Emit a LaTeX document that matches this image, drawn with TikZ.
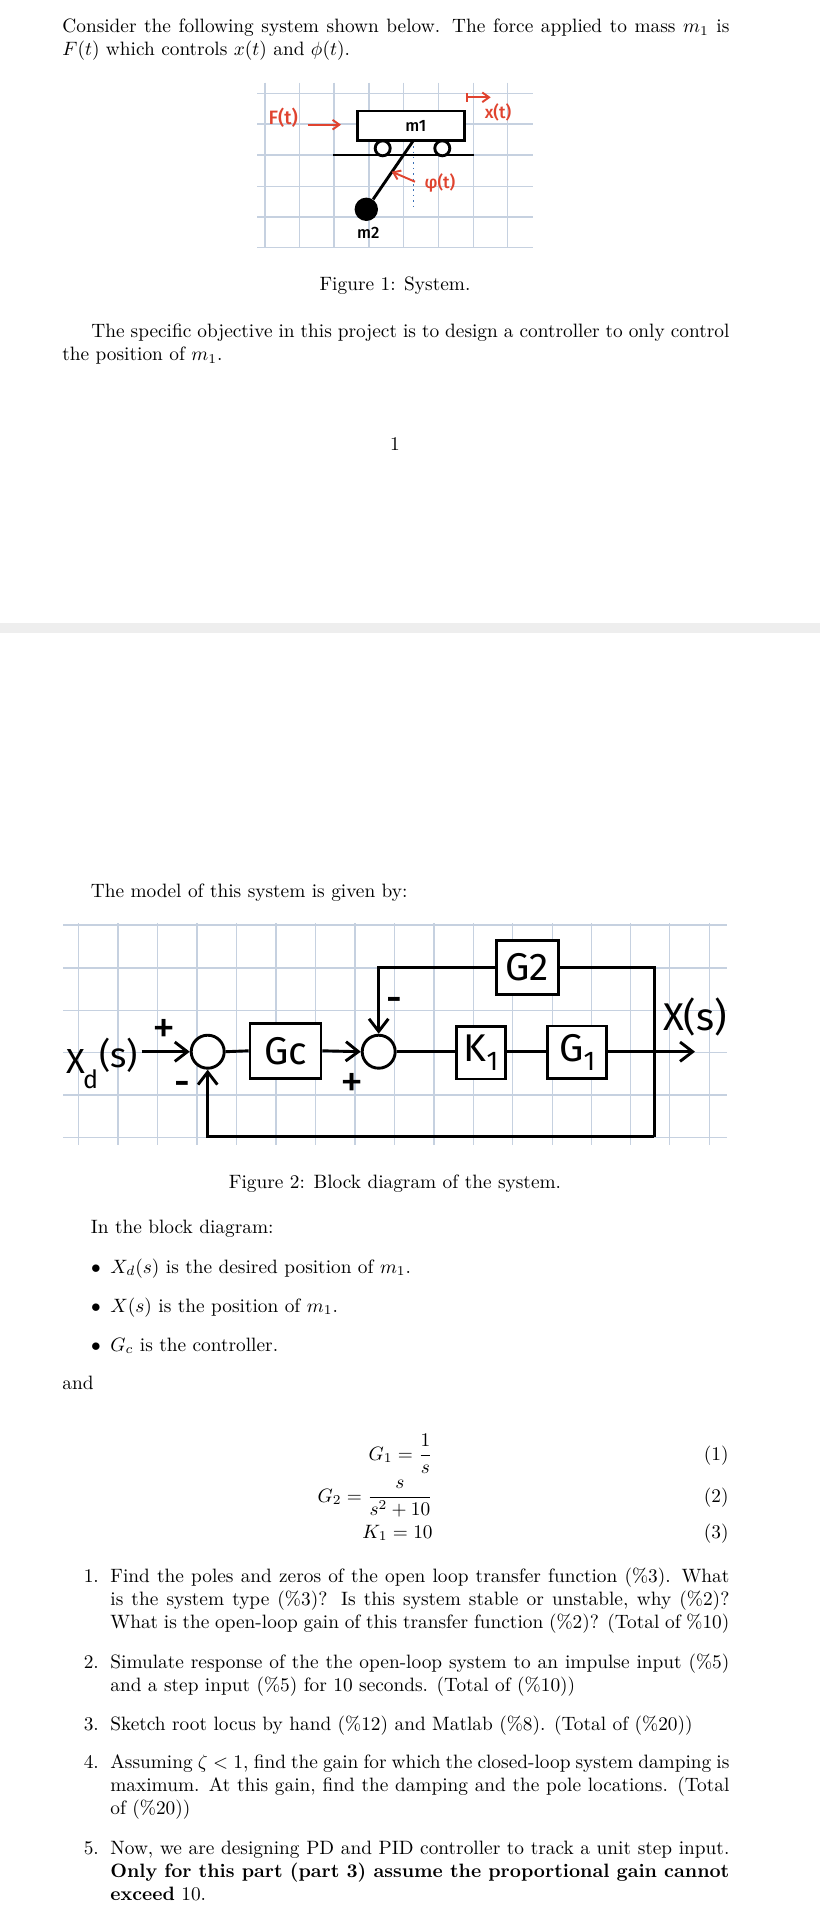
\documentclass[tikz,border=0pt]{standalone}
\usepackage[no-math]{fontspec}
\usepackage{amsmath}
\usetikzlibrary{arrows.meta}
\newfontfamily\handfont{Fira Sans}
\newfontfamily\handbold{Fira Sans Medium}
\definecolor{gridc}{HTML}{C6D1E0}
\definecolor{redink}{HTML}{E0432F}
\definecolor{bluedot}{HTML}{3A6FB5}
\definecolor{bandc}{HTML}{EEEEEE}
\def\pxu{0.51733pt}
\tikzset{
  every node/.style={font=\fontsize{10}{12}\selectfont},
  gridline/.style={draw=gridc,line width=0.8pt},
  para/.style={inner sep=0pt,anchor=north west,align=justify},
  onel/.style={inner sep=0pt,anchor=base west},
  midl/.style={inner sep=0pt,anchor=base},
  eqn/.style={inner sep=0pt,anchor=base east},
  blk/.style={draw=black,fill=white,line width=1.5pt,inner sep=0pt,font=\handfont\fontsize{20}{24}\selectfont},
  sumj/.style={circle,draw=black,fill=white,line width=1.5pt,inner sep=0pt,minimum size=33*\pxu},
  wire/.style={draw=black,line width=1.5pt},
  wirearrow/.style={wire,-{Straight Barb[length=6.5pt,width=10pt,line width=1.5pt]}},
  hand/.style={inner sep=0pt,font=\handfont\fontsize{20}{24}\selectfont},
  handin/.style={inner sep=0pt,anchor=base west,font=\handfont\fontsize{18}{22}\selectfont},
  plussign/.style={inner sep=0pt,font=\handfont\fontsize{24}{28}\selectfont},
  minussign/.style={inner sep=0pt,font=\handbold\fontsize{20}{24}\selectfont},
  cartline/.style={draw=black,line width=1.5pt},
  redtxt/.style={inner sep=0pt,text=redink,font=\handbold\fontsize{10}{12}\selectfont},
  blktxt/.style={inner sep=0pt,font=\handbold\fontsize{8.5}{10}\selectfont},
  redarrow/.style={draw=redink,line width=1pt,-{Straight Barb[length=3.5pt,width=5pt,line width=1pt]}}
}
\begin{document}
\begin{tikzpicture}[x=0.51733pt,y=-0.51733pt]
\useasboundingbox (0,0) rectangle (820,1920);
\fill[white] (0,0) rectangle (820,1920);
% page break band
\fill[bandc] (0,623) rectangle (820,633);

% ---------- text ----------
\node[para,text width=667*\pxu] (intro) at (62,15.5) {\strut Consider the following system shown below.  The force applied to mass $m_1$ is $F(t)$ which controls $x(t)$ and $\phi(t)$.};
\node[midl] (cap1) at (395,290.7) {Figure 1: System.};
\node[para,text width=667*\pxu] (obj) at (62,320.5) {\strut\hspace*{15pt}The specific objective in this project is to design a controller to only control the position of $m_1$.};
\node[midl] (pg) at (395,450) {1};
\node[onel] (model) at (90.5,897.3) {The model of this system is given by:};
\node[midl] (cap2) at (395,1188.7) {Figure 2: Block diagram of the system.};
\node[onel] (inblock) at (90.5,1233) {In the block diagram:};
\node[onel] (b1) at (110,1273) {\makebox[0pt][r]{$\bullet$\hspace{5pt}}$X_d(s)$ is the desired position of $m_1$.};
\node[onel] (b2) at (110,1312) {\makebox[0pt][r]{$\bullet$\hspace{5pt}}$X(s)$ is the position of $m_1$.};
\node[onel] (b3) at (110,1351) {\makebox[0pt][r]{$\bullet$\hspace{5pt}}$G_c$ is the controller.};
\node[onel] (andw) at (62,1389) {and};
\node[eqn] (eq1) at (433,1460) {$\displaystyle G_1=\frac{1}{s}$};
\node[eqn] (eq2) at (433,1502) {$\displaystyle G_2=\frac{s}{s^2+10}$};
\node[eqn] (eq3) at (433,1538) {$\displaystyle K_1=10$};
\node[eqn] (n1) at (729,1460) {(1)};
\node[eqn] (n2) at (729,1502) {(2)};
\node[eqn] (n3) at (729,1538) {(3)};
\node[para,text width=619*\pxu] (i1) at (110,1565.8) {\strut\makebox[0pt][r]{1.\hspace{6pt}}Find the poles and zeros of the open loop transfer function (\%3). What is the system type (\%3)? Is this system stable or unstable, why (\%2)? What is the open-loop gain of this transfer function (\%2)? (Total of \%10)};
\node[para,text width=619*\pxu] (i2) at (110,1651.8) {\strut\makebox[0pt][r]{2.\hspace{6pt}}Simulate response of the the open-loop system to an impulse input (\%5) and a step input (\%5) for 10 seconds. (Total of (\%10))};
\node[para,text width=619*\pxu] (i3) at (110,1713.8) {\strut\makebox[0pt][r]{3.\hspace{6pt}}Sketch root locus by hand (\%12) and Matlab (\%8). (Total of (\%20))};
\node[para,text width=619*\pxu] (i4) at (110,1751.8) {\strut\makebox[0pt][r]{4.\hspace{6pt}}Assuming $\zeta<1$, find the gain for which the closed-loop system damping is maximum. At this gain, find the damping and the pole locations. (Total of (\%20))};
\node[para,text width=619*\pxu] (i5) at (110,1837.8) {\strut\makebox[0pt][r]{5.\hspace{6pt}}Now, we are designing PD and PID controller to track a unit step input. \textbf{Only for this part (part 3) assume the proportional gain cannot exceed} 10.};

% ---------- Figure 1 grid ----------
\foreach \gx in {265,299.3,334,369,403.7,438.3,473.3,507.3}
  \draw[gridline] (\gx,82.7) -- (\gx,247.7);
\foreach \gy in {93.3,124,155,186.3,217,247.7}
  \draw[gridline] (257,\gy) -- (533,\gy);

% ---------- Figure 1 cart ----------
\coordinate (gl) at (333.3,155);
\coordinate (gr) at (474,155);
\draw[cartline] (gl) -- (gr);
\node[draw=black,fill=white,line width=1.5pt,inner sep=0pt,minimum width=106.7*\pxu,minimum height=29.7*\pxu] (cart) at (410.7,125.8) {};
\node[blktxt] (m1) at (415.7,125.7) {m1};
\node[circle,draw=black,fill=white,line width=1.5pt,inner sep=0pt,minimum size=15*\pxu] (wl) at (382.7,148.3) {};
\node[circle,draw=black,fill=white,line width=1.5pt,inner sep=0pt,minimum size=15*\pxu] (wr) at (442.3,148.3) {};
\coordinate (pivot) at (413.3,140.7);
\coordinate (plumb) at (413.3,206.7);
\draw[draw=bluedot,line width=0.8pt,dotted] (pivot) -- (plumb);
\node[circle,fill=black,inner sep=0pt,minimum size=23.4*\pxu] (ball) at (366.3,209.3) {};
\draw[cartline] (pivot) -- (ball);
\node[blktxt] (m2) at (368.3,233.3) {m2};
\node[redtxt] (ft) at (283.3,117.3) {F(t)};
\coordinate (fa) at (307.7,124.7);
\coordinate (fb) at (341,124.7);
\draw[redarrow] (fa) -- (fb);
\node[redtxt,font=\handbold\fontsize{9}{11}\selectfont] (xt) at (498,112) {x(t)};
\coordinate (xa) at (466.7,97.3);
\coordinate (xb) at (490.7,97.3);
\coordinate (xc) at (466.7,93);
\coordinate (xd) at (466.7,101.5);
\draw[redarrow] (xa) -- (xb);
\draw[draw=redink,line width=1pt] (xc) -- (xd);
\node[redtxt,font=\handbold\fontsize{9}{11}\selectfont] (pt) at (440,183) {φ(t)};
\coordinate (pa) at (415,181.7);
\coordinate (pb) at (391.7,171.7);
\draw[redarrow] (pa) -- (pb);

% ---------- Figure 2 grid ----------
\foreach \gx in {78.7,118,157.7,197,236.7,276,315.7,355,394.3,434,473.3,512.7,552.7,591.7,630.7,669.7,709.3}
  \draw[gridline] (\gx,923) -- (\gx,1145);
\foreach \gy in {925,968,1010.3,1052.3,1095,1137.7}
  \draw[gridline] (63,\gy) -- (726.7,\gy);

% ---------- Figure 2 blocks ----------
\node[sumj] (s1) at (207.7,1051.7) {};
\node[sumj] (s2) at (378.7,1051.7) {};
\node[blk,minimum width=71*\pxu,minimum height=55*\pxu] (gc) at (285.5,1050.8) {Gc};
\node[blk,minimum width=49*\pxu,minimum height=52.3*\pxu] (k1) at (481.2,1052.8) {K\raisebox{-0.22em}{\fontsize{14}{16}\selectfont 1}};
\node[blk,minimum width=59*\pxu,minimum height=52.7*\pxu] (g1) at (577.2,1052.3) {G\raisebox{-0.22em}{\fontsize{14}{16}\selectfont 1}};
\node[blk,minimum width=62.3*\pxu,minimum height=54.3*\pxu] (g2) at (527.2,967.2) {G2};
\coordinate (inp) at (141.7,1051.7);
\coordinate (out) at (695,1051.7);
\coordinate (tr) at (654.3,967.2);
\coordinate (fbr) at (654.3,1136.7);
\draw[wirearrow] (inp) -- (s1.west);
\draw[wire] (s1.east) -- (gc.west);
\draw[wirearrow] (gc.east) -- (s2.west);
\draw[wire] (s2.east) -- (k1.west |- s2.east);
\draw[wire] (k1.east |- s2.east) -- (g1.west |- s2.east);
\draw[wirearrow] (g1.east |- s2.east) -- (out);
\draw[wirearrow] (g2.west) -| (s2.north);
\draw[wire] (g2.east) -- (tr) -- (fbr);
\draw[wirearrow] (fbr) -| (s1.south);
% ---------- Figure 2 labels ----------
\node[handin] (xd) at (66,1073) {X\kern-1pt\raisebox{-8pt}{\fontsize{13}{15}\selectfont d}\kern0.5pt\raisebox{0.15em}{(s)}};
\node[hand] (xs) at (695,1016.7) {X(s)};
\node[plussign] (p1) at (164,1031) {+};
\node[minussign] (m1s) at (182,1088) {-};
\node[plussign] (p2) at (352,1085) {+};
\node[minussign] (m2s) at (394,1004) {-};
\end{tikzpicture}
\end{document}
